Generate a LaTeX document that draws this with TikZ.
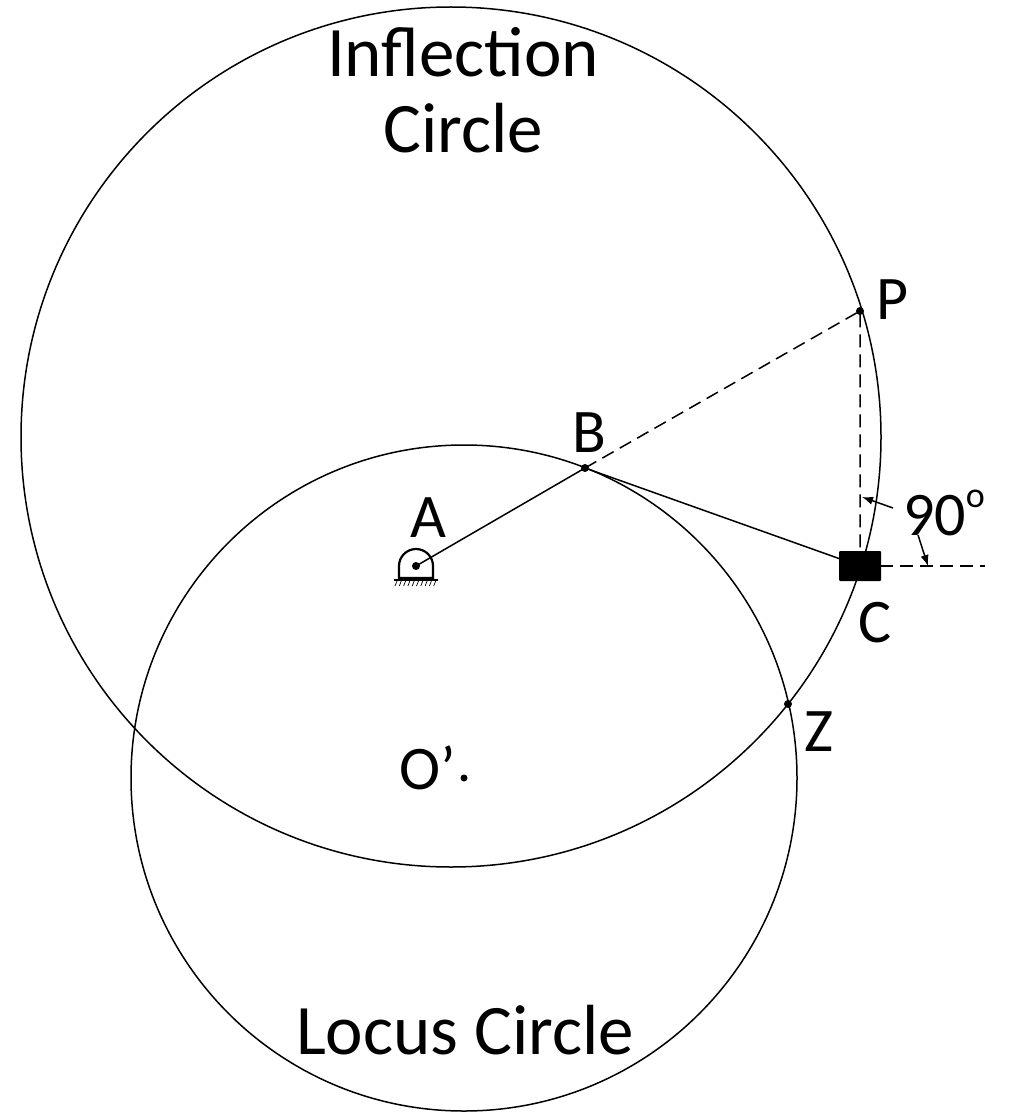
\documentclass[tikz,border=0pt]{standalone}
\usepackage{fontspec}
\setmainfont{Carlito}
\usetikzlibrary{arrows.meta}
\begin{document}
\begin{tikzpicture}[x=1pt,y=-1pt,line width=1.5pt,
  lbl/.style={font=\fontsize{62}{70}\selectfont,inner sep=0pt},
  big/.style={font=\fontsize{71}{76}\selectfont,inner sep=0pt,align=center},
  dot/.style={circle,fill,inner sep=0pt,minimum size=8pt},
  dsh/.style={dash pattern=on 13pt off 7pt}]
\useasboundingbox (0,0) rectangle (1024,1115);
\coordinate (I) at (451,437);
\coordinate (L) at (464,778);
\draw (I) circle (430);
\draw (L) circle (333);
\node[dot] (A) at (416,566) {};
\node[dot] (B) at (585,468) {};
\node[dot] (P) at (860,311) {};
\node[dot] (Z) at (788,704) {};
\coordinate (C) at (860,566);
\coordinate (E) at (985,566);
\draw (A.center) -- (B.center) -- (C);
\draw[dsh] (B.center) -- (P.center) -- (C);
\draw[dsh] (C) -- (E);
\node[fill,minimum width=42pt,minimum height=30pt,inner sep=0pt,rounded corners=1pt] (Cb) at (860,566) {};
% ground
\draw[line width=2.2pt] (399,578) -- (399,566) arc[start angle=180,end angle=360,radius=17] -- (433,578) -- cycle;
\draw[line width=2pt] (394,580) -- (438,580);
\foreach \i in {0,...,9} \draw[line width=0.7pt] (397+\i*4.3,581) -- (395+\i*4.3,586);
% 90 leaders
\draw[-{Latex[length=11pt]}] (893,508) -- (862,497);
\draw[-{Latex[length=11pt]}] (918,535) -- (928,566);
\node[lbl] (tA) at (428,518) {A};
\node[lbl] (tB) at (589,433) {B};
\node[lbl] (tP) at (893,300) {P};
\node[lbl] (tC) at (875,623) {C};
\node[lbl] (tZ) at (819,732) {Z};
\node[lbl] (tO) at (428,768) {O’};
\node[dot,minimum size=7pt] (O) at (464,778) {};
\node[lbl] (t90) at (944,513) {90\raisebox{0.45em}{\fontsize{36}{40}\selectfont o}};
\node[big] (tI) at (463,90) {Inflection\\Circle};
\node[big] (tL) at (465,1030) {Locus Circle};
\end{tikzpicture}
\end{document}
